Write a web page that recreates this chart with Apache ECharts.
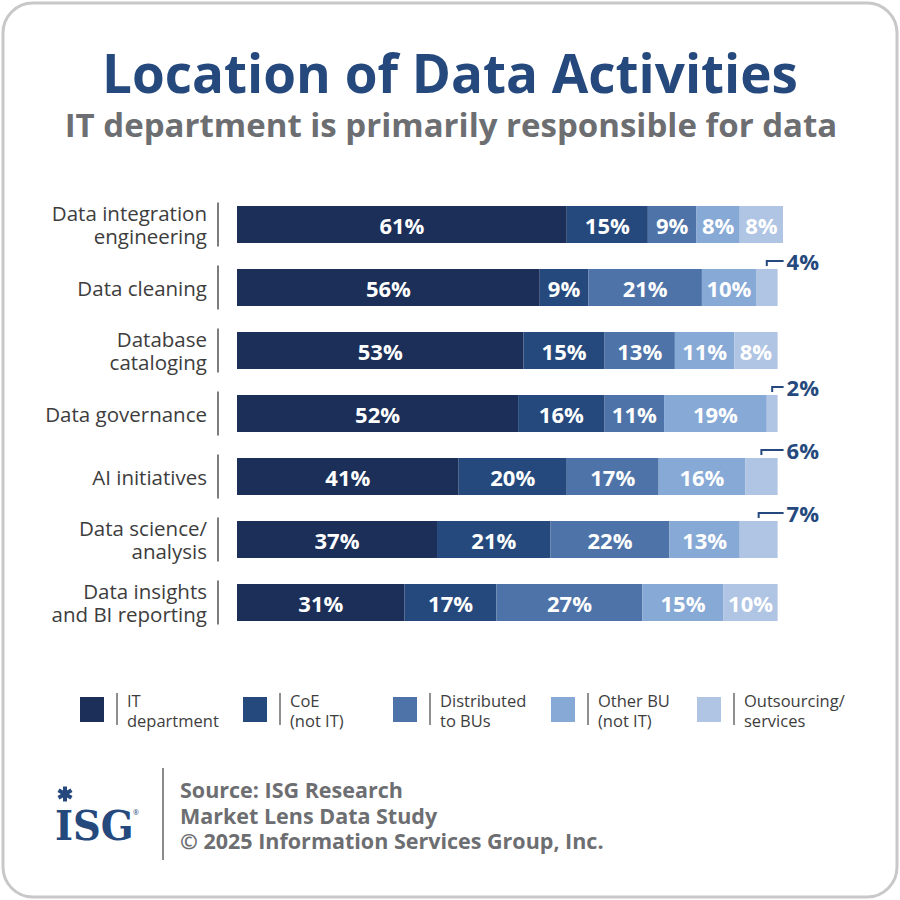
<!DOCTYPE html>
<html>
<head>
<meta charset="utf-8">
<title>Location of Data Activities</title>
<script src="https://cdn.jsdelivr.net/npm/echarts@6/dist/echarts.min.js"></script>
<style>
    html, body { margin: 0; padding: 0; background: #fff; }
    #chart { width: 900px; height: 900px; }
</style>
</head>
<body>
<div id="chart"></div>
<script>

// Data
// ------------------------------

var categories = [
    'Data integration\nengineering', 'Data cleaning', 'Database\ncataloging', 'Data governance',
    'AI initiatives', 'Data science/\nanalysis', 'Data insights\nand BI reporting'
];
var seriesNames = ['IT department', 'CoE (not IT)', 'Distributed to BUs', 'Other BU (not IT)', 'Outsourcing/services'];
var legendLabels = ['IT\ndepartment', 'CoE\n(not IT)', 'Distributed\nto BUs', 'Other BU\n(not IT)', 'Outsourcing/\nservices'];

var itDepartment = [61, 56, 53, 52, 41, 37, 31];
var coeNotIt     = [15, 9, 15, 16, 20, 21, 17];
var distributed  = [9, 21, 13, 11, 17, 22, 27];
var otherBu      = [8, 10, 11, 19, 16, 13, 15];
var outsourcing  = [8, 4, 8, 2, 6, 7, 10];

var titleText = 'Location of Data Activities';
var subtitleText = 'IT department is primarily responsible for data';
var sourceLines = ['Source: ISG Research', 'Market Lens Data Study', '\u00A9 2025 Information Services Group, Inc.'];


// Chart
// ------------------------------

var colors = ['#1b2f58', '#25497d', '#4e73a8', '#87a9d6', '#b0c4e3'];
var darkBlue = '#25497d';
var grey = '#6d6e71';
var font = '"Open Sans", sans-serif';
var smallLimit = 8;   // smaller last segments get a callout instead of an inside label

var allSeries = [itDepartment, coeNotIt, distributed, otherBu, outsourcing];

// callouts for the small "outsourcing" slices
var calloutData = [];
outsourcing.forEach(function(v, i) {
    if (v < smallLimit) {
        var start = itDepartment[i] + coeNotIt[i] + distributed[i] + otherBu[i];
        calloutData.push([i, start, start + v, v]);
    }
});

var barSeries = allSeries.map(function(values, s) {
    return {
        name: seriesNames[s],
        type: 'bar',
        stack: 'total',
        barWidth: 37,
        itemStyle: { color: colors[s] },
        label: {
            show: true,
            position: 'inside',
            formatter: '{c}%',
            color: '#fff',
            fontFamily: font,
            fontWeight: 'bold',
            fontSize: 22
        },
        data: values.map(function(v) {
            return (s === allSeries.length - 1 && v < smallLimit) ? { value: v, label: { show: false } } : v;
        })
    };
});

// vertical separators between category names and bars
var separatorSeries = {
    type: 'custom',
    silent: true,
    data: categories.map(function(c, i) { return [0, i]; }),
    renderItem: function(params, api) {
        var p = api.coord([api.value(0), api.value(1)]);
        return {
            type: 'line',
            shape: { x1: p[0] - 19, y1: p[1] - 22, x2: p[0] - 19, y2: p[1] + 22 },
            style: { stroke: '#7d7d7d', lineWidth: 2 }
        };
    }
};

var calloutSeries = {
    type: 'custom',
    silent: true,
    data: calloutData,
    encode: { y: 0 },
    renderItem: function(params, api) {
        var idx = api.value(0);
        var mid = api.coord([(api.value(1) + api.value(2)) / 2, idx]);
        var end = api.coord([api.value(2), idx]);
        var top = mid[1] - 18.5;
        var yLine = top - 8;
        return {
            type: 'group',
            children: [{
                type: 'polyline',
                shape: { points: [[mid[0], top - 3], [mid[0], yLine], [end[0] + 6, yLine]] },
                style: { stroke: darkBlue, lineWidth: 2, fill: null }
            }, {
                type: 'text',
                x: end[0] + 9,
                y: yLine,
                style: {
                    text: api.value(3) + '%',
                    fill: darkBlue,
                    font: 'bold 22px ' + font,
                    verticalAlign: 'middle'
                }
            }]
        };
    }
};

// legend, drawn by hand to get the divider lines
var legendX = [80, 243, 393, 551, 697];
var legendGraphics = [];
legendLabels.forEach(function(label, i) {
    var x = legendX[i];
    legendGraphics.push({
        type: 'rect',
        shape: { x: x, y: 697, width: 24, height: 25 },
        style: { fill: colors[i] }
    }, {
        type: 'line',
        shape: { x1: x + 37, y1: 693, x2: x + 37, y2: 725 },
        style: { stroke: '#6a6a6a', lineWidth: 1.5 }
    }, {
        type: 'text',
        x: x + 47,
        y: 710,
        style: {
            text: label,
            fill: '#3d3d3d',
            font: '16.5px ' + font,
            lineHeight: 20,
            verticalAlign: 'middle'
        }
    });
});

// asterisk of the logo, three crossing strokes
var logoStar = [0, 60, 120].map(function(a) {
    var r = 7.5, t = (a + 90) * Math.PI / 180;
    return {
        type: 'line',
        shape: { x1: 65 - r * Math.cos(t), y1: 794 - r * Math.sin(t), x2: 65 + r * Math.cos(t), y2: 794 + r * Math.sin(t) },
        style: { stroke: darkBlue, lineWidth: 4 }
    };
});

var chart = echarts.init(document.getElementById('chart'), null, { renderer: 'svg' });

chart.setOption({
    animation: false,
    backgroundColor: '#fff',
    textStyle: { fontFamily: font },

    grid: {
        left: 237,
        right: 117,
        top: 193,
        bottom: 266
    },

    xAxis: {
        type: 'value',
        min: 0,
        max: 101,
        show: false
    },

    yAxis: {
        type: 'category',
        inverse: true,
        data: categories,
        axisLine: { show: false },
        axisTick: { show: false },
        axisLabel: {
            margin: 30,
            color: '#3d3d3d',
            fontFamily: font,
            fontSize: 20.5,
            lineHeight: 23
        }
    },

    graphic: [
        // card border
        {
            type: 'rect',
            z: -10,
            silent: true,
            shape: { x: 3, y: 3, width: 894, height: 894, r: 30 },
            style: { fill: '#fff', stroke: '#c8c8c8', lineWidth: 3 }
        },
        // title
        {
            type: 'text',
            x: 450,
            y: 72,
            style: {
                text: titleText,
                fill: darkBlue,
                font: 'bold 53px ' + font,
                align: 'center',
                verticalAlign: 'middle'
            }
        },
        {
            type: 'text',
            x: 451,
            y: 124,
            style: {
                text: subtitleText,
                fill: grey,
                font: 'bold 33px ' + font,
                align: 'center',
                verticalAlign: 'middle'
            }
        },
        // logo
        {
            type: 'text',
            x: 55,
            y: 826,
            scaleX: 0.94,
            style: { text: 'ISG', fill: darkBlue, font: 'bold 41px "DejaVu Serif"', verticalAlign: 'middle' }
        },
        {
            type: 'text',
            x: 133,
            y: 812,
            style: { text: '\u00AE', fill: darkBlue, font: '7px ' + font, verticalAlign: 'middle' }
        },
        // footer divider
        {
            type: 'line',
            shape: { x1: 163, y1: 768, x2: 163, y2: 860 },
            style: { stroke: '#8a8a8a', lineWidth: 2 }
        },
        {
            type: 'text',
            x: 180,
            y: 815,
            style: {
                text: sourceLines.join('\n'),
                fill: grey,
                font: 'bold 21.5px ' + font,
                lineHeight: 25.5,
                verticalAlign: 'middle'
            }
        }
    ].concat(logoStar, legendGraphics),

    series: barSeries.concat([separatorSeries, calloutSeries])
});

window.addEventListener('resize', function() {
    chart.resize();
});
</script>
</body>
</html>
